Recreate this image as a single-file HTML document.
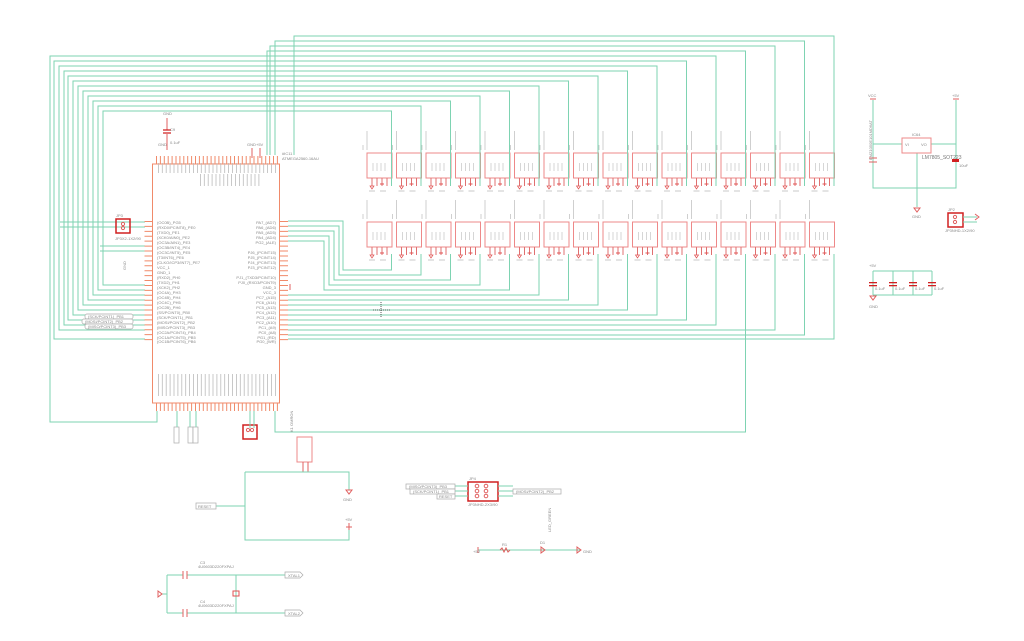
<!DOCTYPE html>
<html><head><meta charset="utf-8"><style>
html,body{margin:0;padding:0;background:#fff;}
svg{display:block;font-family:"Liberation Sans",sans-serif;}
.w{stroke:#7ed3b2;stroke-width:1;fill:none;}
.r{stroke:#e06060;stroke-width:1;fill:none;}
.t{fill:#888;font-size:4px;}
.t5{fill:#777;font-size:5px;}
.lb{fill:#fff;stroke:#aaa;stroke-width:.7;}
.sl{fill:#999;font-size:3.6px;}
</style></head><body>
<svg width="1024" height="641" viewBox="0 0 1024 641" xmlns="http://www.w3.org/2000/svg">
<defs>
<g id="s">
<rect x="0" y="0" width="25" height="25" fill="none" stroke="#e88" stroke-width="1"/>
<path d="M5 25V33M10 25V33M15 25V33M20 25V33" stroke="#e07070" stroke-width="1"/>
<path d="M3 33h4l-2 3z" fill="none" stroke="#e05050" stroke-width=".7"/>
<path d="M13 31h4" stroke="#e05050"/>
<line x1="6" y1="10" x2="6" y2="18" stroke="#bbb" stroke-width=".6"/>
<line x1="10" y1="10" x2="10" y2="18" stroke="#bbb" stroke-width=".6"/>
<line x1="14" y1="10" x2="14" y2="18" stroke="#bbb" stroke-width=".6"/>
<line x1="18" y1="10" x2="18" y2="18" stroke="#bbb" stroke-width=".6"/>
<line x1="2" y1="38" x2="8" y2="38" stroke="#bbb" stroke-width=".8"/>
<line x1="13" y1="38" x2="19" y2="38" stroke="#bbb" stroke-width=".8"/>
<line x1="0" y1="-3" x2="0" y2="-22" stroke="#bbb" stroke-width=".7"/>
<line x1="-4" y1="-3" x2="-4" y2="-8" stroke="#bbb" stroke-width=".7"/>
</g>
</defs>

<!-- sensors -->
<g>
<use href="#s" x="367" y="153"/><use href="#s" x="396.5" y="153"/><use href="#s" x="426" y="153"/><use href="#s" x="455.5" y="153"/>
<use href="#s" x="485" y="153"/><use href="#s" x="514.5" y="153"/><use href="#s" x="544" y="153"/><use href="#s" x="573.5" y="153"/>
<use href="#s" x="603" y="153"/><use href="#s" x="632.5" y="153"/><use href="#s" x="662" y="153"/><use href="#s" x="691.5" y="153"/>
<use href="#s" x="721" y="153"/><use href="#s" x="750.5" y="153"/><use href="#s" x="780" y="153"/><use href="#s" x="809.5" y="153"/>
<use href="#s" x="367" y="222"/><use href="#s" x="396.5" y="222"/><use href="#s" x="426" y="222"/><use href="#s" x="455.5" y="222"/>
<use href="#s" x="485" y="222"/><use href="#s" x="514.5" y="222"/><use href="#s" x="544" y="222"/><use href="#s" x="573.5" y="222"/>
<use href="#s" x="603" y="222"/><use href="#s" x="632.5" y="222"/><use href="#s" x="662" y="222"/><use href="#s" x="691.5" y="222"/>
<use href="#s" x="721" y="222"/><use href="#s" x="750.5" y="222"/><use href="#s" x="780" y="222"/><use href="#s" x="809.5" y="222"/>
</g>

<!-- top wires to top row sensors -->
<g class="w">
<path d="M391.5 186V111H103V285H145"/>
<path d="M421 186V106H98V290H145"/>
<path d="M450.5 186V101H93V295H145"/>
<path d="M480 186V96H88V300H145"/>
<path d="M509.5 186V91H83V305H145"/>
<path d="M539 186V86H78V310H145"/>
<path d="M568.5 186V81H73V315H145"/>
<path d="M598 186V76H68V320H145"/>
<path d="M627.5 186V71H64V325H145"/>
<path d="M657 186V66H59V330H145"/>
<path d="M686.5 186V61H54V339H145"/>
<path d="M716 186V56H50V422H157V411"/>
<path d="M745.5 186V51H267V155"/>
<path d="M775 186V46H270V155"/>
<path d="M804.5 186V41H275V155"/>
<path d="M834 186V36H294V155"/>
<path d="M60 222H145M60 227H145"/>
<path d="M100 246H145M100 251H145"/>
</g>

<!-- bottom row wires -->
<g class="w">
<path d="M391.5 254V270H343V221H288"/>
<path d="M421 254V275H339V226H288"/>
<path d="M450.5 254V280H334V231H288"/>
<path d="M480 254V285H329V236H288"/>
<path d="M509.5 254V290H324V241H288"/>
<path d="M539 254V295H288"/>
<path d="M568.5 254V300H288"/>
<path d="M598 254V305H288"/>
<path d="M627.5 254V310H288"/>
<path d="M657 254V315H288"/>
<path d="M686.5 254V320H288"/>
<path d="M716 254V325H288"/>
<path d="M745.5 254V432H275V411"/>
<path d="M775 254V330H288"/>
<path d="M804.5 254V335H288"/>
<path d="M834 254V339H288"/>
</g>

<!-- main chip -->
<rect x="152.5" y="164" width="127" height="239" fill="none" stroke="#f08a6a" stroke-width="1"/>
<line x1="148.5" y1="221" x2="148.5" y2="341" stroke="#f08a6a" stroke-width="8" stroke-dasharray="1 3.92"/>
<line x1="284" y1="221" x2="284" y2="341" stroke="#f08a6a" stroke-width="8" stroke-dasharray="1 3.92"/>
<line x1="156" y1="160" x2="280" y2="160" stroke="#f08a6a" stroke-width="8" stroke-dasharray="1 2.9"/>
<line x1="156" y1="407" x2="280" y2="407" stroke="#f08a6a" stroke-width="8" stroke-dasharray="1 2.9"/>
<!-- internal top / bottom pin-name hatches -->
<line x1="158" y1="168" x2="278" y2="168" stroke="#bbb" stroke-width="10" stroke-dasharray=".8 3.1"/>
<line x1="200" y1="180" x2="262" y2="180" stroke="#bbb" stroke-width="12" stroke-dasharray=".8 3.1"/>
<line x1="158" y1="385" x2="278" y2="385" stroke="#bbb" stroke-width="22" stroke-dasharray=".8 3.1"/>
<text x="282" y="155" class="t">#IC11</text><text x="282" y="160" class="t">ATMEGA2560-16AU</text>
<g class="t" font-size="3.3">
<text x="157" y="224">(OC0B)_PG5</text><text x="157" y="229">(RXD0/PCINT8)_PE0</text><text x="157" y="234">(TXD0)_PE1</text><text x="157" y="239">(XCK0/AIN0)_PE2</text><text x="157" y="244">(OC3A/AIN1)_PE3</text><text x="157" y="249">(OC3B/INT4)_PE4</text><text x="157" y="254">(OC3C/INT5)_PE5</text><text x="157" y="259">(T3/INT6)_PE6</text><text x="157" y="264">(CLKO/ICP3/INT7)_PE7</text><text x="157" y="269">VCC_1</text><text x="157" y="274">GND_1</text><text x="157" y="279">(RXD2)_PH0</text><text x="157" y="284">(TXD2)_PH1</text><text x="157" y="289">(XCK2)_PH2</text><text x="157" y="294">(OC4A)_PH3</text><text x="157" y="299">(OC4B)_PH4</text><text x="157" y="304">(OC4C)_PH5</text><text x="157" y="309">(OC2B)_PH6</text><text x="157" y="314">(SS/PCINT0)_PB0</text><text x="157" y="319">(SCK/PCINT1)_PB1</text><text x="157" y="324">(MOSI/PCINT2)_PB2</text><text x="157" y="329">(MISO/PCINT3)_PB3</text><text x="157" y="334">(OC2A/PCINT4)_PB4</text><text x="157" y="339">(OC1A/PCINT5)_PB5</text><text x="157" y="343">(OC1B/PCINT6)_PB6</text>
<text x="276" y="224" text-anchor="end">PA7_(AD7)</text><text x="276" y="229" text-anchor="end">PA6_(AD6)</text><text x="276" y="234" text-anchor="end">PA5_(AD5)</text><text x="276" y="239" text-anchor="end">PA4_(AD4)</text><text x="276" y="244" text-anchor="end">PG2_(ALE)</text><text x="276" y="254" text-anchor="end">PJ6_(PCINT15)</text><text x="276" y="259" text-anchor="end">PJ5_(PCINT14)</text><text x="276" y="264" text-anchor="end">PJ4_(PCINT13)</text><text x="276" y="269" text-anchor="end">PJ3_(PCINT12)</text><text x="276" y="279" text-anchor="end">PJ1_(TXD3/PCINT10)</text><text x="276" y="284" text-anchor="end">PJ0_(RXD3/PCINT9)</text><text x="276" y="289" text-anchor="end">GND_3</text><text x="276" y="294" text-anchor="end">VCC_3</text><text x="276" y="299" text-anchor="end">PC7_(A15)</text><text x="276" y="304" text-anchor="end">PC6_(A14)</text><text x="276" y="309" text-anchor="end">PC5_(A13)</text><text x="276" y="314" text-anchor="end">PC4_(A12)</text><text x="276" y="319" text-anchor="end">PC3_(A11)</text><text x="276" y="324" text-anchor="end">PC2_(A10)</text><text x="276" y="329" text-anchor="end">PC1_(A9)</text><text x="276" y="334" text-anchor="end">PC0_(A8)</text><text x="276" y="339" text-anchor="end">PG1_(RD)</text><text x="276" y="343" text-anchor="end">PG0_(WR)</text>
</g>
<!-- left labels -->
<g font-size="4" fill="#888">
<rect x="85" y="314" width="48" height="5" rx="2" class="lb"/><text x="88" y="318">(SCK/PCINT1)_PB1</text>
<rect x="82" y="319" width="51" height="5" rx="2" class="lb"/><text x="85" y="323">(MOSI/PCINT2)_PB2</text>
<rect x="85" y="324" width="48" height="5" rx="2" class="lb"/><text x="88" y="328">(MISO/PCINT3)_PB3</text>
</g>
<!-- JP1 -->
<rect x="116" y="219" width="14" height="14" fill="none" stroke="#d02020" stroke-width="1.5"/>
<circle cx="123" cy="224" r="1.6" class="r"/><circle cx="123" cy="228" r="1.6" class="r"/>
<text x="116" y="217" class="t">JP3</text><text x="115" y="240" class="t">JP3X2-1X2/90</text>
<!-- C9 -->
<path d="M167 118V130M167 134V150" class="r"/><path d="M163 130h8M163 133h8" stroke="#d02020" stroke-width="1.3"/>
<text x="163" y="115" class="t">GND</text><text x="170" y="131" class="t">C9</text><text x="170" y="144" class="t">0.1uF</text>
<text x="158" y="146" class="t">GND</text><text x="247" y="146" class="t">GND</text><text x="256" y="146" class="t">+5V</text>
<path d="M252 148V158M260 148V158" class="r"/>
<!-- bottom labels -->
<rect x="174" y="427" width="5" height="16" class="lb"/><rect x="188" y="427" width="5" height="16" class="lb"/><rect x="193" y="427" width="5" height="16" class="lb"/>
<path d="M177 411V427M190 411V427M196 411V427" class="w"/>
<rect x="243" y="425" width="14" height="14" fill="none" stroke="#d02020" stroke-width="1.5"/>
<circle cx="248" cy="430" r="1.6" class="r"/><circle cx="252" cy="430" r="1.6" class="r"/>
<path d="M250 411V428M254 411V428" class="w"/>
<text x="131" y="265" class="t" transform="rotate(-90 131 270)">GND</text>
<path d="M290 284v6" class="r"/>
<!-- cursor -->
<path d="M373 310H390M381 302V318" stroke="#333" stroke-width=".8" stroke-dasharray="1 1"/>

<!-- relay / reset -->
<rect x="297" y="437" width="15" height="25" fill="none" stroke="#e88"/>
<path d="M303 462V472M308 462V472" class="r"/>
<path d="M245 472H349V490M349 530V540H245V472M216 506H245" class="w"/>
<path d="M346 490h6l-3 4z" class="r"/><text x="343" y="501" class="t">GND</text>
<path d="M346 527h6M349 523V530" class="r"/><text x="345" y="521" class="t">+5V</text>
<rect x="196" y="503" width="20" height="6" class="lb"/><text x="198" y="508" class="t">RESET</text>
<text x="286" y="435" class="t" transform="rotate(-90 288 430)">K1 OMRON</text>

<!-- JP4 header -->
<rect x="468" y="482" width="30" height="19" fill="none" stroke="#d02020" stroke-width="1.5"/>
<g class="r"><circle cx="477" cy="486" r="1.8"/><circle cx="486" cy="486" r="1.8"/><circle cx="477" cy="491" r="1.8"/><circle cx="486" cy="491" r="1.8"/><circle cx="477" cy="496" r="1.8"/><circle cx="486" cy="496" r="1.8"/></g>
<path d="M455 486H468M455 491H468M455 496H468M498 486H513M498 491H513M498 496H513" class="w"/>
<rect x="406" y="484" width="49" height="5" class="lb"/><text x="409" y="488" class="t">(MISO/PCINT3)_PB3</text>
<rect x="410" y="489" width="45" height="5" class="lb"/><text x="413" y="493" class="t">(SCK/PCINT1)_PB1</text>
<rect x="437" y="494" width="18" height="5" class="lb"/><text x="439" y="498" class="t">RESET</text>
<rect x="513" y="489" width="48" height="5" class="lb"/><text x="516" y="493" class="t">(MOSI/PCINT2)_PB2</text>
<text x="469" y="480" class="t">JP4</text><text x="468" y="506" class="t">JP3NHD-2X3/90</text>

<!-- LED row -->
<path d="M478 550H580" class="w"/>
<path d="M478 547v6M500 550l2-2 2 4 2-4 2 4 2-2M541 547v6l4-3z" class="r"/>
<path d="M577 547l4 3-4 3z" class="r"/>
<text x="473" y="553" class="t">+5V</text><text x="502" y="546" class="t">R1</text><text x="540" y="544" class="t">D1</text><text x="544" y="535" class="t" transform="rotate(-90 546 530)">LED_GREEN</text>
<text x="583" y="553" class="t">GND</text>

<!-- crystal -->
<path d="M167 575H183M187 575H285M167 613H183M187 613H285M167 575V613M236 575V613M162 594H167" class="w"/>
<path d="M183 571v8M187 571v8M183 609v8M187 609v8" class="r"/>
<rect x="233" y="591" width="6" height="5" fill="none" stroke="#e05050"/>
<path d="M158 591v6l4-3z" class="r"/>
<text x="200" y="564" class="t">C3</text><text x="198" y="568" class="t">4U0603D220FXPAJ</text>
<text x="200" y="603" class="t">C4</text><text x="198" y="607" class="t">4U0603D220FXPAJ</text>
<path d="M285 572h15l3 3-3 3h-15z" class="lb"/><text x="288" y="577" class="t">XTAL1</text>
<path d="M285 610h15l3 3-3 3h-15z" class="lb"/><text x="288" y="615" class="t">XTAL2</text>

<!-- regulator -->
<path d="M873 100V188H956V100M873 144H902M931 144H956M917 153V207" class="w"/>
<path d="M870 99h6M953 99h6" class="r"/>
<path d="M869 158h8M869 162h8" class="r"/>
<rect x="952" y="159" width="7" height="3" fill="#d02020"/>
<rect x="902" y="138" width="29" height="15" fill="none" stroke="#e88"/>
<path d="M914 208h6l-3 4z" class="r"/>
<text x="868" y="97" class="t">VCC</text><text x="952" y="97" class="t">+5V</text>
<text x="912" y="136" class="t">IC64</text><text x="905" y="146" class="t">VI</text><text x="921" y="146" class="t">VO</text>
<text x="922" y="159" class="t5">LM7805_SOT223</text><text x="959" y="167" class="t">10uF</text><text x="912" y="218" class="t">GND</text>
<text x="862" y="170" class="t" transform="rotate(-90 862 160)">EMZ1050E101MD6AT</text>
<!-- JP -->
<rect x="948" y="213" width="15" height="14" fill="none" stroke="#d02020" stroke-width="1.5"/>
<circle cx="955" cy="217" r="1.6" class="r"/><circle cx="955" cy="222" r="1.6" class="r"/>
<path d="M963 217H977M963 222H977" class="w"/><path d="M975 214l4 3-4 3" class="r"/>
<text x="948" y="211" class="t">JP2</text><text x="945" y="232" class="t">JP3NHD-1X2/90</text>
<!-- caps row -->
<path d="M873 271H932M873 295H932M873 271V295M893 271V295M913 271V295M932 271V295" class="w"/>
<g fill="#d02020"><rect x="869" y="282" width="8" height="1.3"/><rect x="869" y="285" width="8" height="1.3"/><rect x="889" y="282" width="8" height="1.3"/><rect x="889" y="285" width="8" height="1.3"/><rect x="909" y="282" width="8" height="1.3"/><rect x="909" y="285" width="8" height="1.3"/><rect x="928" y="282" width="8" height="1.3"/><rect x="928" y="285" width="8" height="1.3"/></g>
<text x="869" y="267" class="t">+5V</text><text x="869" y="308" class="t">GND</text>
<text x="875" y="290" class="t">0.1uF</text><text x="895" y="290" class="t">0.1uF</text><text x="915" y="290" class="t">0.1uF</text><text x="934" y="290" class="t">0.1uF</text>
<path d="M870 296h6l-3 4z" class="r"/>
</svg>
</body></html>
